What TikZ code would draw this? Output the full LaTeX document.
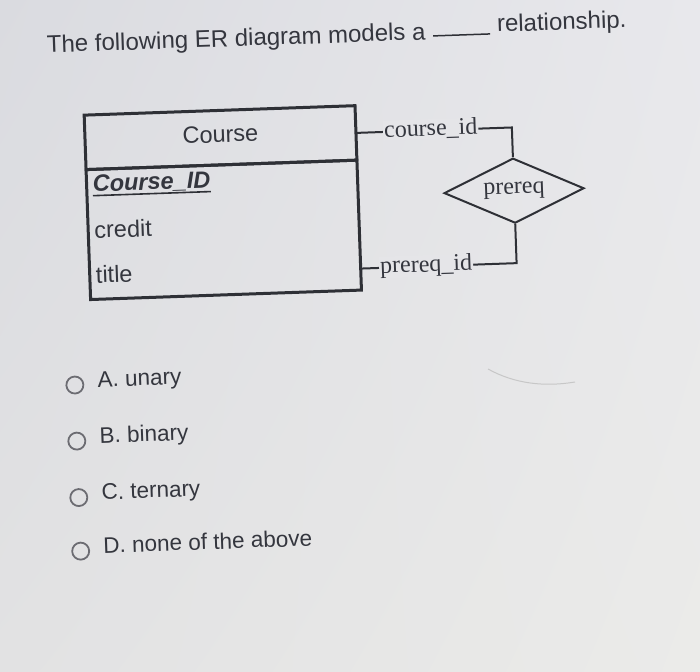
\documentclass[tikz,border=0pt]{standalone}
\usepackage{fontspec}
\setmainfont{Liberation Sans}
\newfontfamily\serifer{Liberation Serif}
\usepackage{tikz}
\usetikzlibrary{shapes,shadings,positioning,calc}
\usepackage{xcolor}
\definecolor{ink}{RGB}{52,54,62}
\definecolor{inkline}{RGB}{46,48,54}
\definecolor{radiogrey}{RGB}{108,108,114}
\definecolor{paperul}{RGB}{218,219,224}
\definecolor{paperur}{RGB}{232,232,236}
\definecolor{paperll}{RGB}{226,226,227}
\definecolor{paperlr}{RGB}{235,235,233}
\definecolor{paper}{RGB}{229,229,232}
\tikzstyle{l1}=[line width=3]
\tikzstyle{l2}=[line width=2]
\tikzstyle{entity}=[rectangle, draw=inkline, l1, minimum width=271pt, inner sep=0pt, outer sep=0pt]
\tikzstyle{attr}=[inner sep=0pt, text=ink, font=\fontsize{23.5}{28}\selectfont]
\tikzstyle{rel}=[diamond, aspect=2.15, draw=inkline, l2, minimum width=140pt, minimum height=65pt, inner sep=0pt, text=ink, font=\serifer\fontsize{24}{28}\selectfont]
\tikzstyle{role}=[fill=paper, inner xsep=1pt, inner ysep=0pt, text=ink, anchor=base, yshift=-5.5pt, font=\serifer\fontsize{24}{28}\selectfont]
\tikzstyle{link}=[l2, draw=inkline]
\tikzstyle{question}=[inner sep=0pt, text=ink, anchor=base west, font=\fontsize{24}{28}\selectfont]
\tikzstyle{option}=[inner sep=0pt, text=ink, anchor=base west, font=\fontsize{22.5}{27}\selectfont]
\tikzstyle{radio}=[circle, draw=radiogrey, line width=1.8, minimum size=17pt, inner sep=0pt]
\tikzstyle{smudge}=[line width=1, color=black!22]
\begin{document}
\begin{tikzpicture}[x=1pt, y=-1pt]
    \useasboundingbox (0,0) rectangle (700,671);
    \shade[upper left=paperul, upper right=paperur, lower left=paperll, lower right=paperlr] (0,0) rectangle (700,671);
    \draw[smudge] (488,369) .. controls (515,384) and (545,387) .. (575,382);

    \begin{scope}[rotate around={2:(350,335)}, transform shape]
        % question
        \node (question) [question] at (57,42.5) {The following ER diagram models a};
        \coordinate (blankl) at (443.5,39);
        \coordinate (blankr) at (500.5,39);
        \draw[inkline, line width=1.5] (blankl) -- (blankr);
        \node (relword) [question] at (507.6,37.3) {relationship.};

        % ER diagram
        \node (coursehead) [entity, minimum height=54.5pt, text depth=7pt, text=ink,
            font=\fontsize{23.5}{28}\selectfont] at (227.5,133.25) {Course};
        \node (coursebody) [entity, minimum height=130pt, below=0pt of coursehead] {};
        \node (cid) [attr, anchor=base west, font=\fontsize{23.5}{28}\selectfont\bfseries\itshape] at (98,182.8) {Course\_ID};
        \draw[inkline, line width=1.6] ([yshift=-4pt]cid.base west) -- ([yshift=-4pt]cid.base east);
        \node (credit) [attr, anchor=base west] at (98,229.4) {credit};
        \node (title) [attr, anchor=base west] at (98,274.4) {title};

        \node (prereq) [rel] at (519,196.5) {prereq};
        \coordinate (pid) at (coursebody.east |- 0,269);
        \draw[link] (coursehead.east) -| (prereq.north) node[role, pos=0.24] {course\_id};
        \draw[link] (pid) -| (prereq.south) node[role, pos=0.21] {prereq\_id};

        % options
        \foreach \y/\txt [count=\i] in {375.4/A. unary, 431.5/B. binary, 488/C. ternary, 541.6/D. none of the above} {
            \node (radio\i) [radio] at (73.3,\y) {};
            \node (opt\i) [option] at (96,\y+2.8) {\txt};
        }
    \end{scope}
\end{tikzpicture}
\end{document}
